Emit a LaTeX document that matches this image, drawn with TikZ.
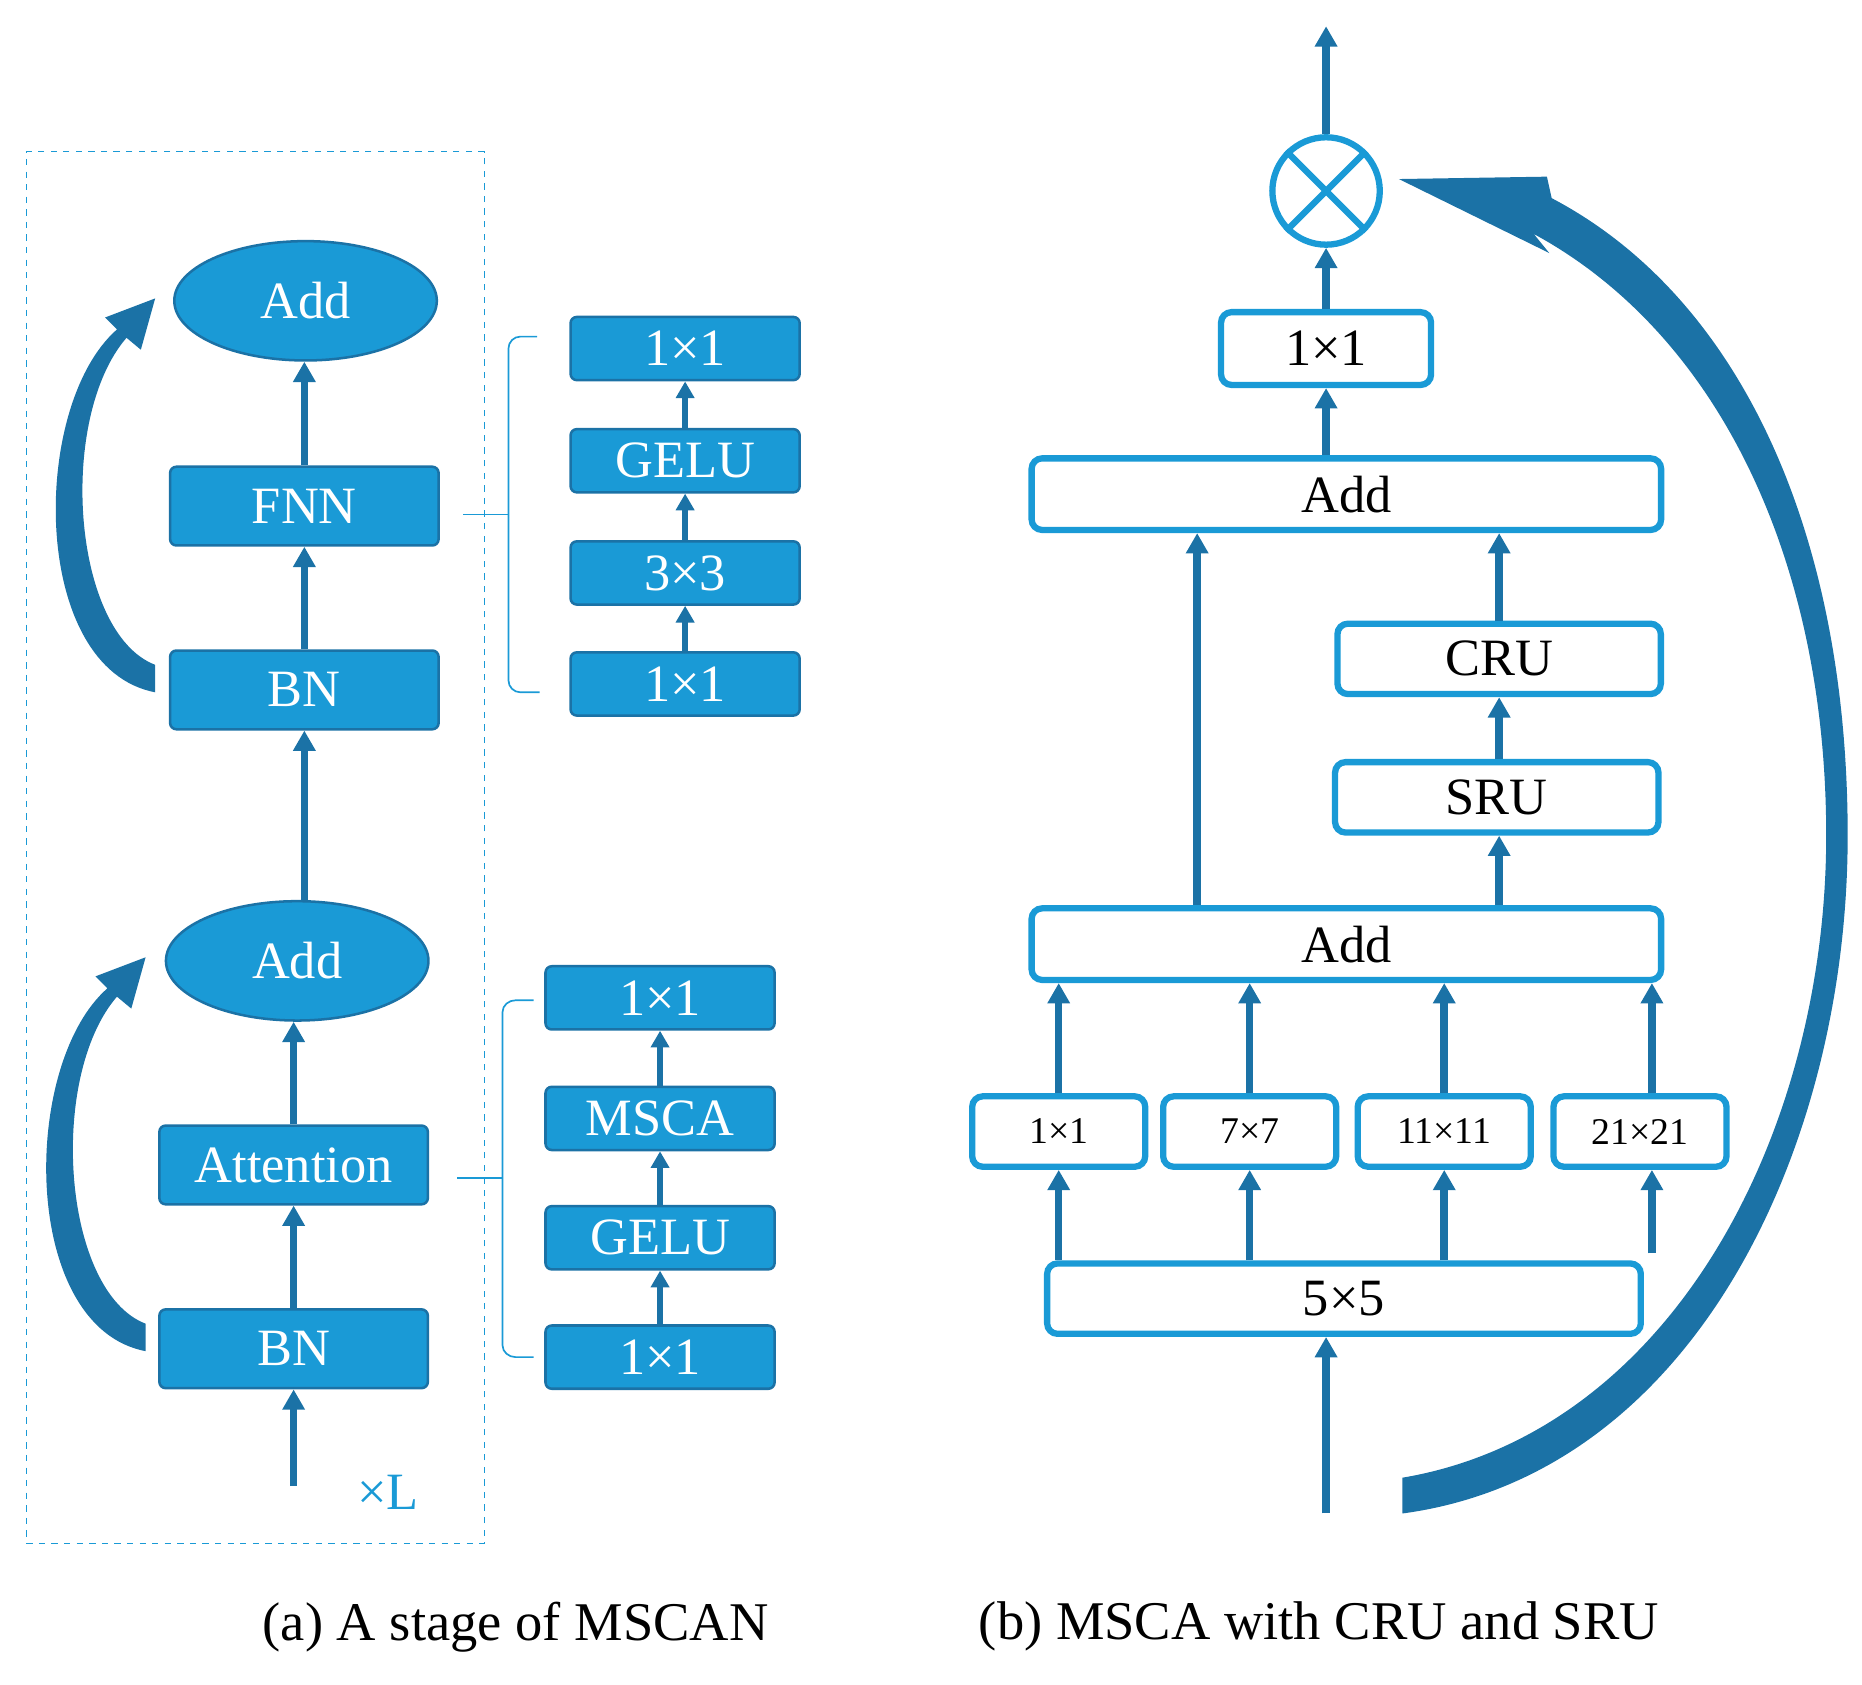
\documentclass[tikz,border=0pt]{standalone}
\usepackage{fontspec}
\setmainfont{Liberation Serif}
\usetikzlibrary{arrows.meta,calc,shapes.geometric}
\definecolor{bl}{HTML}{1A9AD6}
\definecolor{bd}{HTML}{1B72A6}
\begin{document}
\begin{tikzpicture}[x=0.02cm,y=-0.02cm,
  fb/.style={draw=bd,fill=bl,line width=1.2pt,rounded corners=3pt,inner sep=0pt,text=white,font=\fontsize{25}{25}\selectfont},
  fe/.style={draw=bd,fill=bl,line width=1.2pt,ellipse,inner sep=0pt,text=white,font=\fontsize{25}{25}\selectfont,minimum width=4.4cm,minimum height=2cm},
  big/.style={fb,minimum width=4.5cm,minimum height=1.32cm},
  sm/.style={fb,minimum width=3.84cm,minimum height=1.06cm},
  wb/.style={draw=bl,fill=white,line width=3pt,rounded corners=5pt,inner sep=0pt,font=\fontsize{25}{25}\selectfont},
  ws/.style={wb,minimum width=2.9cm,minimum height=1.18cm,font=\fontsize{18}{18}\selectfont},
  arr/.style={draw=bd,line width=3.6pt,-{Triangle[width=0.36cm,length=0.34cm]}},
  ar2/.style={draw=bd,line width=2.8pt,-{Triangle[width=0.3cm,length=0.28cm]}},
  br/.style={draw=bl,line width=0.8pt}]
\useasboundingbox (0,0) rectangle (1560,1411);
% ---------- (a) ----------
\node[draw=bl,dashed,line width=0.6pt,minimum width=7.68cm,minimum height=23.32cm,inner sep=0] (frame) at (214,710) {};
\node[fe] (add1) at (256,252) {Add};
\node[big] (fnn) at (255,424) {FNN};
\node[big] (bn1) at (255,578) {BN};
\node[fe] (add2) at (249,805) {Add};
\node[big] (att) at (246,976) {Attention};
\node[big] (bn2) at (246,1130) {BN};
\node[text=bl,font=\fontsize{25}{25}\selectfont] (xl) at (325,1250) {×L};
\coordinate (in2) at (246,1245);
\draw[arr] (in2) -- (bn2.south);
\draw[arr] (bn2) -- (att);
\draw[arr] (att) -- (att.north |- add2.south);
\draw[arr] (bn1.south |- add2.north) -- (bn1.south);
\draw[arr] (bn1) -- (fnn);
\draw[arr] (fnn) -- (fnn.north |- add1.south);
% curved skip arrows
\foreach \dx/\dy in {0/0,-8/552}{
\fill[bd,shift={(\dx*0.02cm,-\dy*0.02cm)}] (130,557) .. controls (60,530) and (48,350) .. (106,283) -- (118,293) -- (130,250) -- (88,266) -- (98,276) .. controls (25,340) and (25,560) .. (130,580) -- cycle;}
% stack 1
\node[sm] (s11) at (574,292) {1×1};
\node[sm] (s12) at (574,386) {GELU};
\node[sm] (s13) at (574,480) {3×3};
\node[sm] (s14) at (574,573) {1×1};
\draw[ar2] (s14) -- (s13); \draw[ar2] (s13) -- (s12); \draw[ar2] (s12) -- (s11);
% stack 2
\node[sm] (s21) at (553,836) {1×1};
\node[sm] (s22) at (553,937) {MSCA};
\node[sm] (s23) at (553,1037) {GELU};
\node[sm] (s24) at (553,1137) {1×1};
\draw[ar2] (s24) -- (s23); \draw[ar2] (s23) -- (s22); \draw[ar2] (s22) -- (s21);
% braces
\draw[br] (450,282) -- (436,282) to[out=180,in=90] (426,292) -- (426,570) to[out=-90,in=180] (436,580) -- (452,580);
\draw[br] (388,431) -- (426,431);
\draw[br] (447,838) -- (432,838) to[out=180,in=90] (421,848) -- (421,1127) to[out=-90,in=180] (432,1137) -- (447,1137);
\draw[br] (383,987) -- (421,987);
% ---------- (b) ----------
\node[draw=bl,line width=3pt,circle,minimum size=1.8cm,inner sep=0] (ot) at (1111,160) {};
\draw[bl,line width=3pt] (ot.north west) -- (ot.south east) (ot.north east) -- (ot.south west);
\coordinate (out) at (1111,22);
\draw[arr] (ot) -- (out);
\node[wb,minimum width=3.52cm,minimum height=1.22cm] (t1) at (1111,292) {1×1};
\node[wb,minimum width=10.55cm,minimum height=1.2cm] (ad1) at (1128,414) {Add};
\node[wb,minimum width=5.42cm,minimum height=1.18cm] (cru) at (1256,552) {CRU};
\node[wb,minimum width=5.42cm,minimum height=1.18cm] (sru) at (1254,668) {SRU};
\node[wb,minimum width=10.55cm,minimum height=1.2cm] (ad2) at (1128,791) {Add};
\node[ws] (k1) at (887,948) {1×1};
\node[ws] (k7) at (1047,948) {7×7};
\node[ws] (k11) at (1210,948) {11×11};
\node[ws] (k21) at (1374,948) {21×21};
\node[wb,minimum width=9.95cm,minimum height=1.18cm] (k5) at (1126,1088) {5×5};
\coordinate (inb) at (1111,1268);
\coordinate (c1003) at (1003,0);
\coordinate (c1256) at (1256,0);
\coordinate (c1384) at (1384,0);
\coordinate (s21b) at (1384,1050);
\draw[arr] (inb) -- (inb |- k5.south);
\foreach \k in {k1,k7,k11}{
  \draw[arr] (k5.north -| \k.south) -- (\k.south);
  \draw[arr] (\k.north) -- (ad2.south -| \k.north);}
\draw[arr] (s21b) -- (k21.south -| s21b);
\draw[arr] (k21.north -| c1384) -- (ad2.south -| c1384);
\draw[arr] (ad2.north -| c1003) -- (ad1.south -| c1003);
\draw[arr] (ad2.north -| c1256) -- (sru.south -| c1256);
\draw[arr] (sru.north -| c1256) -- (cru.south -| c1256);
\draw[arr] (cru.north -| c1256) -- (ad1.south -| c1256);
\draw[arr] (ad1.north -| t1.south) -- (t1.south);
\draw[arr] (t1) -- (ot);
\fill[bd] (1175,1238) .. controls (1400,1200) and (1530,950) .. (1530,700) .. controls (1530,470) and (1440,280) .. (1285,196) -- (1298,212) -- (1172,150) -- (1296,148) -- (1300,166) .. controls (1460,250) and (1548,450) .. (1548,700) .. controls (1548,960) and (1420,1235) .. (1175,1268) -- cycle;
% captions
\node[font=\fontsize{26}{26}\selectfont] (capa) at (432,1363) {(a) A stage of MSCAN};
\node[font=\fontsize{26}{26}\selectfont] (capb) at (1105,1363) {(b) MSCA with CRU and SRU};
\end{tikzpicture}
\end{document}
